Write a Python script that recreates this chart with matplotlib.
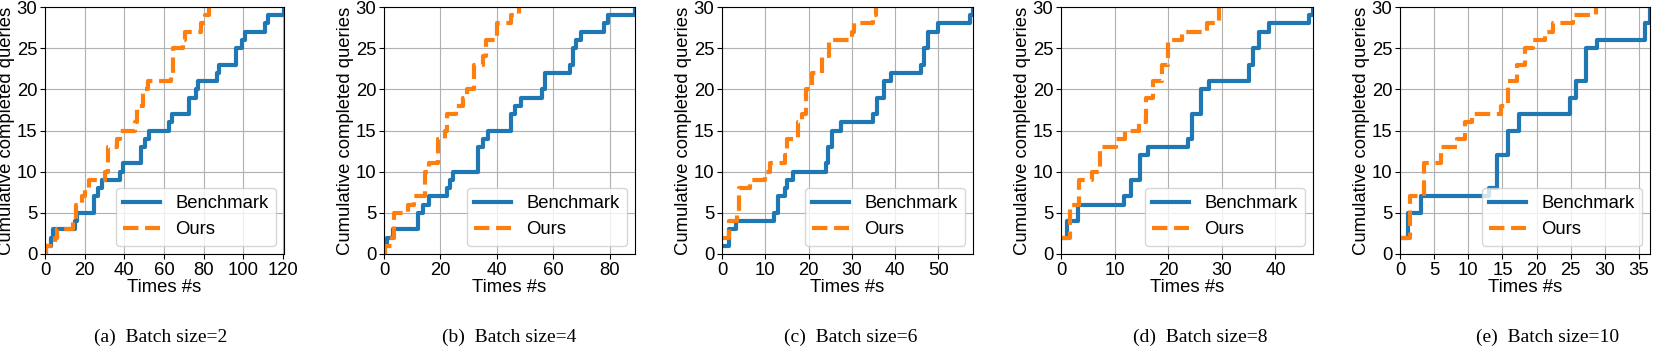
import matplotlib
matplotlib.use("Agg")
import matplotlib.pyplot as plt
from matplotlib.ticker import MultipleLocator

plt.rcParams["font.family"] = ["Liberation Sans", "DejaVu Sans"]

# Data: (time, cumulative completed) step points for each batch size
captions = ["(a)  Batch size=2", "(b)  Batch size=4", "(c)  Batch size=6",
            "(d)  Batch size=8", "(e)  Batch size=10"]

bench_t_2 = [0, 0.5, 3, 4, 15, 16, 24.5, 26.5, 28.5, 38, 39.5, 48.5, 50.5, 52.5, 62.5, 64,
             72.5, 76, 77, 86.5, 87.5, 96.5, 99.5, 101, 111, 112.5, 120.5]
bench_y_2 = [0, 1, 2, 3, 4, 5, 7, 8, 9, 10, 11, 13, 14, 15, 16, 17,
             19, 20, 21, 22, 23, 25, 26, 27, 28, 29, 30]
ours_t_2 = [0, 0.3, 5, 6, 14, 15.5, 18.5, 20, 22, 30.5, 32, 36.5, 38, 45.5, 46.5, 49.5, 52,
            63.5, 64.5, 69.5, 70.5, 78.5, 80.5, 82.5]
ours_y_2 = [0, 1, 2, 3, 4, 6, 7, 8, 9, 10, 13, 14, 15, 16, 18, 20, 21,
            22, 25, 26, 27, 28, 29, 30]

bench_t_4 = [0, 0.5, 1.2, 3.3, 12, 14, 16, 22.5, 23.5, 24.5, 33.5, 35, 37, 45, 46.5, 48.5,
             56, 57, 66, 67, 68, 70, 78, 79.5, 89]
bench_y_4 = [0, 1, 2, 3, 5, 6, 7, 8, 9, 10, 13, 14, 15, 17, 18, 19,
             20, 22, 23, 25, 26, 27, 28, 29, 30]
ours_t_4 = [0, 0.3, 3, 3.6, 8.5, 10.5, 14.4, 15.8, 19, 21.5, 22.5, 25.5, 28, 29.5, 32, 35,
            36, 40, 45, 48]
ours_y_4 = [0, 1, 2, 5, 6, 7, 10, 11, 14, 15, 17, 18, 19, 20, 23, 24,
            26, 28, 29, 30]

bench_t_6 = [0, 1.7, 3.3, 12, 13, 14.5, 15, 16.5, 24, 24.5, 25.5, 27.5, 35, 35.8, 37.5, 39,
             46, 46.7, 47.7, 50, 57.3, 58]
bench_y_6 = [1, 3, 4, 5, 7, 8, 9, 10, 11, 13, 15, 16, 17, 19, 21, 22,
             23, 25, 27, 28, 29, 30]
ours_t_6 = [0, 1.6, 3.4, 4, 6.5, 10, 11.2, 14.5, 15, 17.5, 18.4, 19.5, 20.8, 23, 24.7, 30,
            30.5, 35, 35.6]
ours_y_6 = [2, 4, 5, 8, 9, 10, 11, 12, 14, 16, 17, 20, 22, 24, 26, 27,
            28, 29, 30]

bench_t_8 = [0, 1.2, 3.1, 11.8, 13.1, 14.7, 16.3, 23.6, 24.5, 26.1, 27.6, 35, 35.8, 36.9,
             38.8, 46.3, 47]
bench_y_8 = [2, 4, 6, 7, 9, 12, 13, 14, 17, 20, 21, 23, 25, 27, 28, 29, 30]
ours_t_8 = [0, 1.7, 3.3, 5.8, 7.3, 10.2, 12, 14.6, 15.8, 17.1, 18.8, 20, 22.5, 27.2, 29.5]
ours_y_8 = [2, 6, 9, 10, 13, 14, 15, 16, 19, 21, 23, 26, 27, 28, 30]

bench_t_10 = [0, 1.2, 3.1, 13, 14.2, 15.8, 17.4, 24.9, 25.8, 27.2, 28.9, 35.8, 36.6]
bench_y_10 = [2, 5, 7, 8, 12, 15, 17, 19, 21, 25, 26, 28, 30]
ours_t_10 = [0, 1.5, 3.5, 6, 8.3, 9.5, 10.5, 14.8, 15.8, 17.1, 18.3, 19.5, 21.3, 22.4,
             25.3, 28.7]
ours_y_10 = [2, 7, 11, 13, 14, 16, 17, 18, 21, 23, 25, 26, 27, 28, 29, 30]

bench_t = [bench_t_2, bench_t_4, bench_t_6, bench_t_8, bench_t_10]
bench_y = [bench_y_2, bench_y_4, bench_y_6, bench_y_8, bench_y_10]
ours_t = [ours_t_2, ours_t_4, ours_t_6, ours_t_8, ours_t_10]
ours_y = [ours_y_2, ours_y_4, ours_y_6, ours_y_8, ours_y_10]

# layout in pixels of the 1653x350 canvas
W, H = 1653, 350
ax_left = [45, 384, 722, 1061, 1400]
ax_right = [284, 635, 973, 1313, 1650]
ax_top, ax_bottom = 7, 254
cap_x = [161, 509, 851, 1200, 1548]
x_step = [20, 20, 10, 10, 5]
fs = 13.3

fig = plt.figure(figsize=(W / 100, H / 100), dpi=100)

for i in range(5):
    ax = fig.add_axes([ax_left[i] / W, 1 - ax_bottom / H,
                       (ax_right[i] - ax_left[i]) / W, (ax_bottom - ax_top) / H])
    ax.step(bench_t[i], bench_y[i], where="post", color="#1f77b4", lw=3, label="Benchmark")
    ax.step(ours_t[i], ours_y[i], where="post", color="#ff7f0e", lw=3, ls="--", label="Ours")
    ax.set_xlim(0, bench_t[i][-1])
    ax.set_ylim(0, 30)
    ax.set_yticks([0, 5, 10, 15, 20, 25, 30])
    ax.xaxis.set_major_locator(MultipleLocator(x_step[i]))
    ax.grid(True)
    ax.tick_params(labelsize=fs, pad=2)
    ax.set_xlabel("Times #s", fontsize=fs, labelpad=0)
    ax.set_ylabel("Cumulative completed queries", fontsize=fs, labelpad=1)
    ax.legend(loc="lower right", fontsize=fs, handlelength=2.0, borderaxespad=0.45)
    fig.text(cap_x[i] / W, 1 - 337 / H, captions[i], ha="center", va="center",
             fontsize=14, family="Liberation Serif")

fig.savefig("out.png", dpi=100)
